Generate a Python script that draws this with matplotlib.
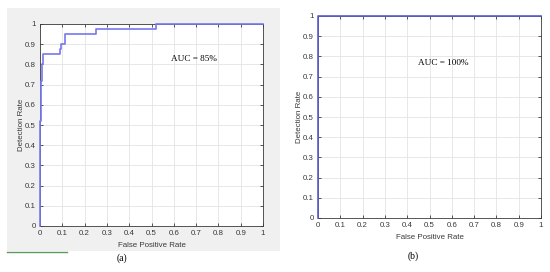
import matplotlib
matplotlib.use("Agg")
import matplotlib.pyplot as plt
from matplotlib.patches import Rectangle
from matplotlib.lines import Line2D

# ROC curve (a): step vertices
fpr_a = [0, 0, 0.005, 0.005, 0.01, 0.01, 0.015, 0.015, 0.09, 0.09,
         0.095, 0.095, 0.11, 0.11, 0.25, 0.25, 0.52, 0.52, 1.0]
tpr_a = [0, 0.52, 0.52, 0.72, 0.72, 0.80, 0.80, 0.85, 0.85, 0.875,
         0.875, 0.90, 0.90, 0.95, 0.95, 0.975, 0.975, 1.0, 1.0]

# ROC curve (b): perfect classifier
fpr_b = [0, 0, 1.0]
tpr_b = [0, 1.0, 1.0]

ticks = [0, 0.1, 0.2, 0.3, 0.4, 0.5, 0.6, 0.7, 0.8, 0.9, 1]
tick_labels = ["0", "0.1", "0.2", "0.3", "0.4", "0.5", "0.6", "0.7", "0.8", "0.9", "1"]

plt.rcParams['font.family'] = 'Liberation Sans'

W, H = 550, 272
fig = plt.figure(figsize=(W / 100, H / 100), dpi=100)
fig.patch.set_facecolor('white')

# gray MATLAB figure window behind panel (a)
fig.add_artist(Rectangle((7 / W, 1 - 251 / H), 273 / W, 243 / H,
                         transform=fig.transFigure, facecolor='#f0f0f0',
                         edgecolor='none', zorder=0))
fig.add_artist(Line2D([7 / W, 67 / W], [1 - 252 / H, 1 - 252 / H],
                      transform=fig.transFigure, color='#5a9a5a', lw=1))


def setup(ax, px_left, px_top):
    ax.set_position([px_left / W, 1 - (px_top + 202) / H, 223 / W, 202 / H])
    ax.set_xlim(0, 1)
    ax.set_ylim(0, 1)
    ax.set_xticks(ticks)
    ax.set_yticks(ticks)
    ax.set_xticklabels(tick_labels)
    ax.set_yticklabels(tick_labels)
    ax.tick_params(direction='in', length=2.5, width=0.6, labelsize=5.7,
                   top=True, right=True, colors='#3a3a3a', pad=3)
    ax.grid(True, color='#e3e3e3', lw=0.6)
    ax.set_axisbelow(True)
    for s in ax.spines.values():
        s.set_color('#3a3a3a')
        s.set_linewidth(0.6)
    ax.set_xlabel('False Positive Rate', fontsize=5.7, color='#3a3a3a')
    ax.set_ylabel('Detection Rate', fontsize=5.7, color='#3a3a3a')
    ax.xaxis.set_label_coords(0.5, -0.099)
    ax.yaxis.set_label_coords(-0.085, 0.5)
    ax.xaxis.label.set_va('center')
    ax.yaxis.label.set_va('center')
    ax.set_facecolor('white')


ax1 = fig.add_axes([0, 0, 1, 1])
setup(ax1, 40, 24)
ax1.plot(fpr_a, tpr_a, color='#7878f0', lw=1.2, clip_on=False, zorder=3)
ax1.text(0.587, 0.827, 'AUC = 85%', family='Liberation Serif', fontsize=6.6,
         va='center', ha='left')

ax2 = fig.add_axes([0, 0, 1, 1])
setup(ax2, 318, 16)
ax2.plot(fpr_b, tpr_b, color='#5c5cd0', lw=1.2, clip_on=False, zorder=3)
ax2.text(0.448, 0.767, 'AUC = 100%', family='Liberation Serif', fontsize=6.6,
         va='center', ha='left')

fig.text(122 / W, 1 - 258 / H, '(a)', family='Liberation Serif', fontsize=7,
         ha='center', va='center')
fig.text(413 / W, 1 - 256 / H, '(b)', family='Liberation Serif', fontsize=7,
         ha='center', va='center')

fig.savefig('out.png', dpi=100)
